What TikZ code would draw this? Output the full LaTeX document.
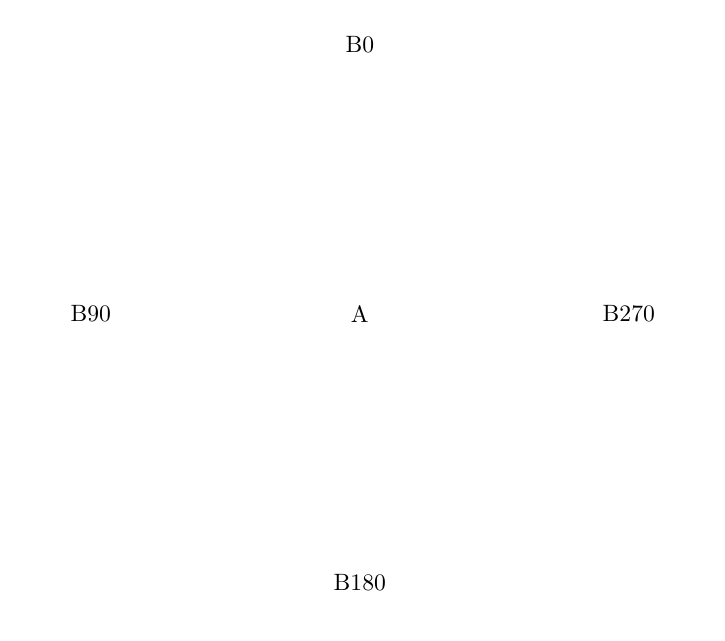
\documentclass[tikz,border=0pt]{standalone}
\begin{document}
\begin{tikzpicture}
\tikzset{lbl/.style={inner sep=0.3333em}}
\useasboundingbox (-5.35,-4.85) rectangle (5.43,4.67);
\node[lbl] (A) at (0,0) {A};
\node[lbl] (B0) at (90:4cm) {B0};
\node[lbl] (B90) at (180:4cm) {B90};
\node[lbl] (B180) at (270:4cm) {B180};
\node[lbl] (B270) at (0:4cm) {B270};
\end{tikzpicture}
\end{document}
